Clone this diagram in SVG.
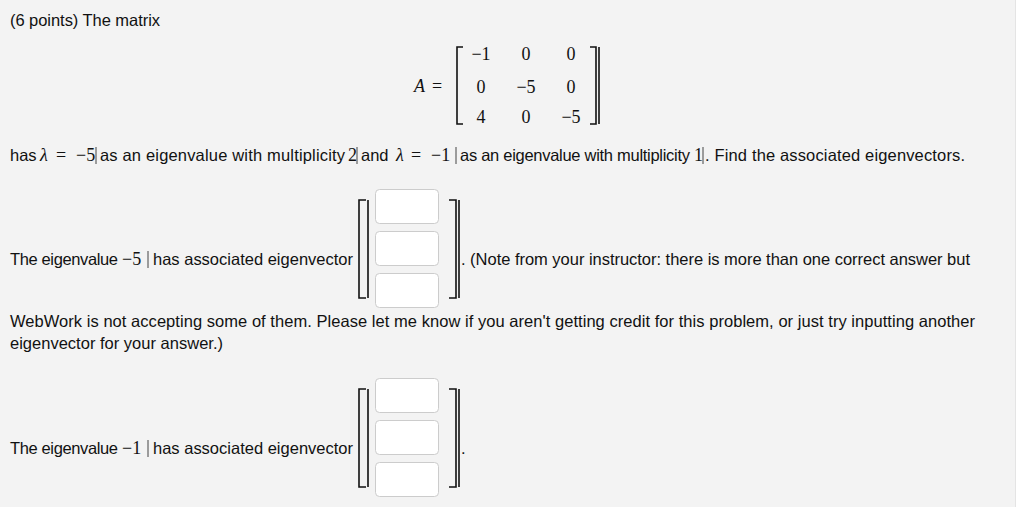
<svg xmlns="http://www.w3.org/2000/svg" width="1024" height="509" viewBox="0 0 1024 509">
<style>
.t{font-family:"Liberation Sans",Arial,sans-serif;font-size:16.5px;fill:#111}
.m{font-family:"Liberation Serif","Times New Roman",serif;font-size:18px;fill:#111}
.mi{font-family:"Liberation Serif","Times New Roman",serif;font-size:18px;font-style:italic;fill:#111}
.br{fill:none;stroke:#111;stroke-width:1.6}
.box{fill:#fff;stroke:#ccc;stroke-width:1}
.cur{stroke:#444;stroke-width:1}
</style>
<rect width="1024" height="509" fill="#fff"/>
<rect x="0" y="0" width="1015" height="507" fill="#f3f3f3"/>
<line x1="1015.5" y1="0" x2="1015.5" y2="507" stroke="#e4e4e4"/>
<text class="t" x="10" y="26" textLength="150">(6 points) The matrix</text>
<text class="mi" x="414" y="92">A</text><text class="m" x="432" y="92">=</text>
<path class="br" d="M463,47 H457 V124 H463"/>
<path class="br" d="M590,47 H596 V124 H590 M599,47 V124"/>
<g class="m" text-anchor="middle">
<text x="481" y="60">−1</text><text x="526" y="60">0</text><text x="571" y="60">0</text>
<text x="481" y="93">0</text><text x="526" y="93">−5</text><text x="571" y="93">0</text>
<text x="481" y="123">4</text><text x="526" y="123">0</text><text x="571" y="123">−5</text>
</g>
<text class="t" x="10" y="161">has</text>
<text class="mi" x="40" y="161">λ</text><text class="m" x="56" y="161">=</text><text class="m" x="76" y="161">−5</text>
<line class="cur" x1="96" y1="147" x2="96" y2="164"/>
<text class="t" x="100" y="161" textLength="245">as an eigenvalue with multiplicity</text>
<text class="m" x="348" y="161">2</text>
<line class="cur" x1="357" y1="147" x2="357" y2="164"/>
<text class="t" x="361" y="161">and</text>
<text class="mi" x="396" y="161">λ</text><text class="m" x="411" y="161">=</text><text class="m" x="431" y="161">−1</text>
<line class="cur" x1="456" y1="147" x2="456" y2="164"/>
<text class="t" x="460" y="161" textLength="230">as an eigenvalue with multiplicity</text>
<text class="m" x="694" y="161">1</text>
<line class="cur" x1="703" y1="147" x2="703" y2="164"/>
<text class="t" x="705" y="161" textLength="260">. Find the associated eigenvectors.</text>
<text class="t" x="10" y="265" textLength="108">The eigenvalue</text>
<text class="m" x="122" y="265">−5</text>
<line class="cur" x1="148" y1="251" x2="148" y2="268"/>
<text class="t" x="153" y="265" textLength="200">has associated eigenvector</text>
<path class="br" d="M366,200 H359 V298 H366 M368,200 V298"/>
<rect class="box" x="375.5" y="189.5" width="63" height="34" rx="4"/>
<rect class="box" x="375.5" y="231.5" width="63" height="34" rx="4"/>
<rect class="box" x="375.5" y="273.5" width="63" height="34" rx="4"/>
<path class="br" d="M449,200 H456 V298 H449 M459,200 V298"/>
<text class="t" x="461" y="265" textLength="509">. (Note from your instructor: there is more than one correct answer but</text>
<text class="t" x="10" y="327" textLength="965">WebWork is not accepting some of them. Please let me know if you aren't getting credit for this problem, or just try inputting another</text>
<text class="t" x="10" y="349" textLength="213">eigenvector for your answer.)</text>
<text class="t" x="10" y="454" textLength="108">The eigenvalue</text>
<text class="m" x="122" y="454">−1</text>
<line class="cur" x1="148" y1="440" x2="148" y2="457"/>
<text class="t" x="153" y="454" textLength="200">has associated eigenvector</text>
<path class="br" d="M366,389 H359 V487 H366 M368,389 V487"/>
<rect class="box" x="375.5" y="378.5" width="63" height="34" rx="4"/>
<rect class="box" x="375.5" y="420.5" width="63" height="34" rx="4"/>
<rect class="box" x="375.5" y="462.5" width="63" height="34" rx="4"/>
<path class="br" d="M449,389 H456 V487 H449 M459,389 V487"/>
<text class="t" x="461" y="454">.</text>
</svg>
